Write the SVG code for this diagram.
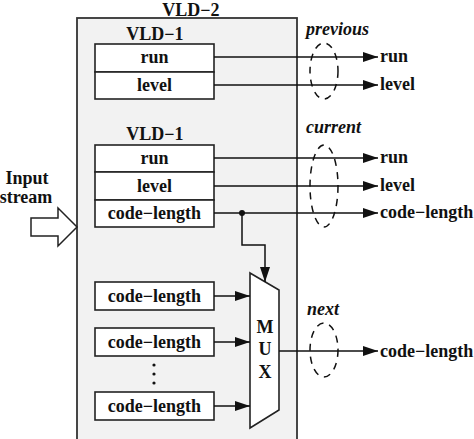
<svg xmlns="http://www.w3.org/2000/svg" width="474" height="439" viewBox="0 0 474 439">
<defs>
<style>
text{font-family:"Liberation Serif","Times New Roman",serif;font-weight:bold;fill:#111}
.lbl{font-size:18px}
.cell{font-size:18px;text-anchor:middle}
.mx{font-size:18px;text-anchor:middle}
.it{font-style:italic;font-size:18px}
.box{fill:#fff;stroke:#222;stroke-width:1.6}
.ln{fill:none;stroke:#111;stroke-width:1.5}
.el{fill:none;stroke:#111;stroke-width:1.5;stroke-dasharray:7 6}
</style>
<marker id="ah" viewBox="0 0 15 10" refX="15" refY="5" markerWidth="15" markerHeight="10" markerUnits="userSpaceOnUse" orient="auto">
<path d="M0,0 L15,5 L0,10 Z" fill="#111"/>
</marker>
</defs>
<rect width="474" height="439" fill="#fff"/>

<g id="vld2">
<rect x="77" y="18" width="220" height="422" fill="#f2f2f2" stroke="#333" stroke-width="1.8"/>
<text class="lbl" x="191" y="16" text-anchor="middle">VLD−2</text>
</g>

<g id="vld1-prev">
<text class="lbl" x="155" y="40" text-anchor="middle">VLD−1</text>
<rect class="box" x="95" y="44" width="119" height="28"/>
<text class="cell" x="154.5" y="63">run</text>
<rect class="box" x="95" y="72" width="119" height="27"/>
<text class="cell" x="154.5" y="91">level</text>
</g>

<g id="vld1-cur">
<text class="lbl" x="155" y="140" text-anchor="middle">VLD−1</text>
<rect class="box" x="95" y="145" width="119" height="27"/>
<text class="cell" x="154.5" y="164">run</text>
<rect class="box" x="95" y="172" width="119" height="28"/>
<text class="cell" x="154.5" y="192">level</text>
<rect class="box" x="95" y="200" width="119" height="27"/>
<text class="cell" x="154.5" y="219">code−length</text>
</g>

<g id="cl1">
<rect class="box" x="95" y="282" width="119" height="28"/>
<text class="cell" x="154.5" y="302">code−length</text>
</g>
<g id="cl2">
<rect class="box" x="95" y="328" width="119" height="28"/>
<text class="cell" x="154.5" y="348">code−length</text>
</g>
<g id="dots" fill="#111">
<circle cx="154" cy="365" r="1.6"/>
<circle cx="154" cy="374" r="1.6"/>
<circle cx="154" cy="383" r="1.6"/>
</g>
<g id="cl3">
<rect class="box" x="95" y="392" width="119" height="28"/>
<text class="cell" x="154.5" y="412">code−length</text>
</g>

<g id="mux">
<path d="M250,273 L279,290 L279,410 L250,428 Z" fill="#fff" stroke="#222" stroke-width="1.6"/>
<text class="mx" x="265" y="333">M</text>
<text class="mx" x="265" y="355">U</text>
<text class="mx" x="265" y="378">X</text>
</g>

<g id="input">
<text class="lbl" x="27" y="184" text-anchor="middle">Input</text>
<text class="lbl" x="26" y="203" text-anchor="middle">stream</text>
<path d="M31,218 L58,218 L58,208 L77,227 L58,246 L58,236 L31,236 Z" fill="#fff" stroke="#222" stroke-width="1.5"/>
</g>

<g id="connectors">
<line class="ln" x1="214" y1="57" x2="378" y2="57" marker-end="url(#ah)"/>
<line class="ln" x1="214" y1="85" x2="378" y2="85" marker-end="url(#ah)"/>
<line class="ln" x1="214" y1="158" x2="378" y2="158" marker-end="url(#ah)"/>
<line class="ln" x1="214" y1="186" x2="378" y2="186" marker-end="url(#ah)"/>
<line class="ln" x1="214" y1="213" x2="378" y2="213" marker-end="url(#ah)"/>
<circle cx="242" cy="213" r="3" fill="#111"/>
<path class="ln" d="M242,213 L242,245 L265,245 L265,282" marker-end="url(#ah)"/>
<line class="ln" x1="214" y1="296" x2="250" y2="296" marker-end="url(#ah)"/>
<line class="ln" x1="214" y1="342" x2="250" y2="342" marker-end="url(#ah)"/>
<line class="ln" x1="214" y1="406" x2="250" y2="406" marker-end="url(#ah)"/>
<line class="ln" x1="279" y1="351" x2="378" y2="351" marker-end="url(#ah)"/>
</g>

<g id="groups">
<ellipse class="el" cx="324" cy="71" rx="14" ry="28"/>
<text class="it" x="306" y="35">previous</text>
<ellipse class="el" cx="324" cy="186" rx="14" ry="41"/>
<text class="it" x="306" y="133">current</text>
<ellipse class="el" cx="324" cy="350" rx="14" ry="27"/>
<text class="it" x="307" y="315">next</text>
</g>

<g id="outputs">
<text class="lbl" x="380" y="62">run</text>
<text class="lbl" x="380" y="90">level</text>
<text class="lbl" x="380" y="163">run</text>
<text class="lbl" x="380" y="191">level</text>
<text class="lbl" x="380" y="218">code−length</text>
<text class="lbl" x="380" y="357">code−length</text>
</g>
</svg>
